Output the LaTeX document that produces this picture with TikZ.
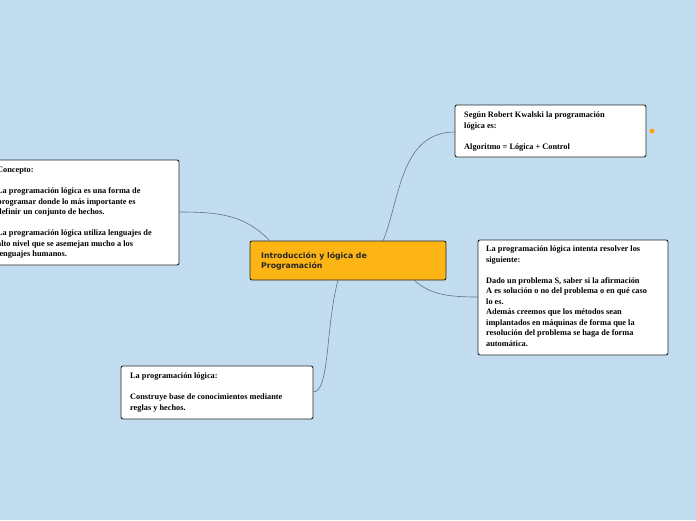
\documentclass[tikz,border=0pt]{standalone}
\usepackage{fontspec}
\setmainfont{Liberation Serif}
\newfontfamily\sansf{DejaVu Sans}
\definecolor{bg}{HTML}{C2DDF0}
\definecolor{ctr}{HTML}{FDB515}
\definecolor{lnk}{HTML}{5E7485}
\begin{document}
\begin{tikzpicture}[x=1pt,y=-1pt,
  box/.style={draw=black!85,line width=0.9pt,rounded corners=2pt,fill=white},
  txt/.style={anchor=north west,align=left,font=\fontsize{8.3}{10.5}\selectfont\bfseries,inner sep=0pt},
  link/.style={draw=lnk,line width=0.6pt}]
\fill[bg] (0,0) rectangle (696,520);
\useasboundingbox (0,0) rectangle (696,520);
\draw[box,fill=ctr] (250,241) rectangle (446,280);
\node[anchor=west,align=left,inner sep=0pt,font=\sansf\fontsize{7.8}{10}\selectfont\bfseries,text=black!85] (c) at (261,261) {Introducción y lógica de\\Programación};
\coordinate (cT) at (383,241);
\coordinate (cL) at (270,241);
\coordinate (cR) at (414,280);
\coordinate (cB) at (338,280);
% concept
\draw[box] (-10,160) rectangle (179,265);
\node[txt] (a) at (-3,167) {Concepto:\\[10.5pt]La programación lógica es una forma de\\programar donde lo más importante es\\definir un conjunto de hechos.\\[10.5pt]La programación lógica utiliza lenguajes de\\alto nivel que se asemejan mucho a los\\lenguajes humanos.};
\coordinate (aR) at (179,212);
% kwalski
\draw[box] (455,105) rectangle (646,157);
\node[txt] (b) at (464,112) {Según Robert Kwalski la programación\\lógica es:\\[10.5pt]Algoritmo = Lógica + Control};
\coordinate (bL) at (455,132);
% right
\draw[box] (478,240) rectangle (668,355);
\node[txt] (d) at (486,246) {La programación lógica intenta resolver los\\siguiente:\\[10.5pt]Dado un problema S, saber si la afirmación\\A es solución o no del problema o en qué caso\\lo es.\\Además creemos que los métodos sean\\implantados en máquinas de forma que la\\resolución del problema se haga de forma\\automática.};
\coordinate (dL) at (478,297);
% bottom
\draw[box] (121,366) rectangle (313,419);
\node[txt] (e) at (130,373) {La programación lógica:\\[10.5pt]Construye base de conocimientos mediante\\reglas y hechos.};
\coordinate (eR) at (313,392);
\draw[link] (cT) .. controls (400,200) and (400,132) .. (bL);
\draw[link] (cL) .. controls (245,215) and (220,212) .. (aR);
\draw[link] (cR) .. controls (430,295) and (450,297) .. (dL);
\draw[link] (cB) .. controls (325,330) and (330,392) .. (eR);
\fill[ctr!90!red] (652,131) circle (2.5);
\end{tikzpicture}
\end{document}
